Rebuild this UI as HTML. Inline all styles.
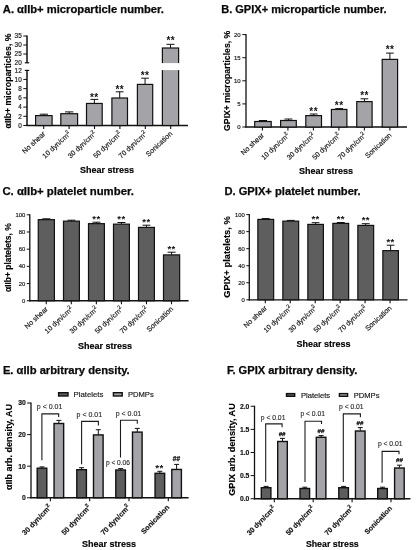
<!DOCTYPE html>
<html><head><meta charset="utf-8"><title>Figure</title>
<style>
html,body{margin:0;padding:0;background:#fff;}
svg{display:block;}
text{font-family:"Liberation Sans",sans-serif;fill:#222;}
.ttl{font-weight:bold;font-size:10.2px;fill:#0a0a0a;stroke:#0a0a0a;stroke-width:0.25px;}
.tk{font-weight:normal;fill:#1a1a1a;stroke:#1a1a1a;stroke-width:0.18px;}
.tkb{font-weight:bold;fill:#111;stroke:#111;stroke-width:0.15px;}
.yl{font-weight:bold;fill:#000;stroke:#000;stroke-width:0.15px;}
.st{font-weight:bold;fill:#111;letter-spacing:0.4px;}
.pv{font-weight:normal;fill:#262626;stroke:#262626;stroke-width:0.12px;}
</style></head><body>
<svg width="416" height="550" viewBox="0 0 416 550">
<rect width="416" height="550" fill="#fff"/>
<text x="2.8" y="12.9" class="ttl" textLength="161.1" lengthAdjust="spacingAndGlyphs">A. αIIb+ microparticle number.</text>
<line x1="27" y1="35.4" x2="27" y2="63.0" stroke="#111" stroke-width="1.5"/>
<line x1="24.8" y1="62.8" x2="29.2" y2="62.8" stroke="#111" stroke-width="1.2"/>
<line x1="27" y1="70.2" x2="27" y2="126.1" stroke="#111" stroke-width="1.5"/>
<line x1="24.8" y1="70.4" x2="29.2" y2="70.4" stroke="#111" stroke-width="1.2"/>
<line x1="26.4" y1="125.5" x2="188.0" y2="125.5" stroke="#111" stroke-width="1.3"/>
<line x1="23.3" y1="36" x2="27" y2="36" stroke="#111" stroke-width="1.0"/>
<text x="21.7" y="38.30" class="tk" text-anchor="end" font-size="6.4">35</text>
<line x1="23.3" y1="45" x2="27" y2="45" stroke="#111" stroke-width="1.0"/>
<text x="21.7" y="47.30" class="tk" text-anchor="end" font-size="6.4">30</text>
<line x1="23.3" y1="54" x2="27" y2="54" stroke="#111" stroke-width="1.0"/>
<text x="21.7" y="56.30" class="tk" text-anchor="end" font-size="6.4">25</text>
<text x="21.7" y="65.3" class="tk" text-anchor="end" font-size="6.4">20</text>
<text x="21.7" y="72.5" class="tk" text-anchor="end" font-size="6.4">12</text>
<line x1="23.3" y1="79.41666666666666" x2="27" y2="79.41666666666666" stroke="#111" stroke-width="1.0"/>
<text x="21.7" y="81.72" class="tk" text-anchor="end" font-size="6.4">10</text>
<line x1="23.3" y1="88.63333333333333" x2="27" y2="88.63333333333333" stroke="#111" stroke-width="1.0"/>
<text x="21.7" y="90.94" class="tk" text-anchor="end" font-size="6.4">8</text>
<line x1="23.3" y1="97.85000000000001" x2="27" y2="97.85000000000001" stroke="#111" stroke-width="1.0"/>
<text x="21.7" y="100.15" class="tk" text-anchor="end" font-size="6.4">6</text>
<line x1="23.3" y1="107.06666666666666" x2="27" y2="107.06666666666666" stroke="#111" stroke-width="1.0"/>
<text x="21.7" y="109.37" class="tk" text-anchor="end" font-size="6.4">4</text>
<line x1="23.3" y1="116.28333333333333" x2="27" y2="116.28333333333333" stroke="#111" stroke-width="1.0"/>
<text x="21.7" y="118.59" class="tk" text-anchor="end" font-size="6.4">2</text>
<line x1="23.3" y1="125.5" x2="27" y2="125.5" stroke="#111" stroke-width="1.0"/>
<text x="21.7" y="127.80" class="tk" text-anchor="end" font-size="6.4">0</text>
<line x1="43.85" y1="114.2" x2="43.85" y2="115.6" stroke="#111" stroke-width="1.0"/>
<line x1="39.725" y1="114.2" x2="47.975" y2="114.2" stroke="#111" stroke-width="1.0"/>
<rect x="35.6" y="115.6" width="16.5" height="9.900000000000006" fill="#a4a3a8" stroke="#111" stroke-width="1.2"/>
<line x1="69.19999999999999" y1="111.9" x2="69.19999999999999" y2="113.7" stroke="#111" stroke-width="1.0"/>
<line x1="64.99999999999999" y1="111.9" x2="73.39999999999999" y2="111.9" stroke="#111" stroke-width="1.0"/>
<rect x="60.8" y="113.7" width="16.799999999999997" height="11.799999999999997" fill="#a4a3a8" stroke="#111" stroke-width="1.2"/>
<line x1="94.35" y1="99.4" x2="94.35" y2="103.45" stroke="#111" stroke-width="1.0"/>
<line x1="90.425" y1="99.4" x2="98.27499999999999" y2="99.4" stroke="#111" stroke-width="1.0"/>
<rect x="86.5" y="103.45" width="15.700000000000003" height="22.049999999999997" fill="#a4a3a8" stroke="#111" stroke-width="1.2"/>
<line x1="119.7" y1="91.8" x2="119.7" y2="98.0" stroke="#111" stroke-width="1.0"/>
<line x1="115.80000000000001" y1="91.8" x2="123.6" y2="91.8" stroke="#111" stroke-width="1.0"/>
<rect x="111.9" y="98.0" width="15.599999999999994" height="27.5" fill="#a4a3a8" stroke="#111" stroke-width="1.2"/>
<line x1="145.05" y1="78.2" x2="145.05" y2="84.4" stroke="#111" stroke-width="1.0"/>
<line x1="141.22500000000002" y1="78.2" x2="148.875" y2="78.2" stroke="#111" stroke-width="1.0"/>
<rect x="137.4" y="84.4" width="15.299999999999983" height="41.099999999999994" fill="#a4a3a8" stroke="#111" stroke-width="1.2"/>
<line x1="170.5" y1="44.3" x2="170.5" y2="48" stroke="#111" stroke-width="1.0"/>
<line x1="166.45" y1="44.3" x2="174.55" y2="44.3" stroke="#111" stroke-width="1.0"/>
<rect x="162.4" y="48" width="16.19999999999999" height="77.5" fill="#a4a3a8" stroke="#111" stroke-width="1.2"/>
<rect x="160" y="63.1" width="21" height="7.0" fill="#fff"/>
<text x="94.35" y="100.95" class="st" text-anchor="middle" font-size="10.0">**</text>
<text x="119.7" y="93.35" class="st" text-anchor="middle" font-size="10.0">**</text>
<text x="145.05" y="78.75" class="st" text-anchor="middle" font-size="10.0">**</text>
<text x="170.7" y="44.05" class="st" text-anchor="middle" font-size="10.0">**</text>
<line x1="43.7" y1="125.5" x2="43.7" y2="129.0" stroke="#111" stroke-width="1.1"/>
<text transform="translate(45.800000000000004,134.4) rotate(-43)" class="tk" text-anchor="end" font-size="7.1">No shear</text>
<line x1="69.1" y1="125.5" x2="69.1" y2="129.0" stroke="#111" stroke-width="1.1"/>
<text transform="translate(71.19999999999999,134.4) rotate(-43)" class="tk" text-anchor="end" font-size="7.1">10 dyn/cm<tspan dy="-3" font-size="5.32">2</tspan></text>
<line x1="94.5" y1="125.5" x2="94.5" y2="129.0" stroke="#111" stroke-width="1.1"/>
<text transform="translate(96.6,134.4) rotate(-43)" class="tk" text-anchor="end" font-size="7.1">30 dyn/cm<tspan dy="-3" font-size="5.32">2</tspan></text>
<line x1="119.89999999999999" y1="125.5" x2="119.89999999999999" y2="129.0" stroke="#111" stroke-width="1.1"/>
<text transform="translate(121.99999999999999,134.4) rotate(-43)" class="tk" text-anchor="end" font-size="7.1">50 dyn/cm<tspan dy="-3" font-size="5.32">2</tspan></text>
<line x1="145.3" y1="125.5" x2="145.3" y2="129.0" stroke="#111" stroke-width="1.1"/>
<text transform="translate(147.4,134.4) rotate(-43)" class="tk" text-anchor="end" font-size="7.1">70 dyn/cm<tspan dy="-3" font-size="5.32">2</tspan></text>
<line x1="170.7" y1="125.5" x2="170.7" y2="129.0" stroke="#111" stroke-width="1.1"/>
<text transform="translate(172.79999999999998,134.4) rotate(-43)" class="tk" text-anchor="end" font-size="7.1">Sonication</text>
<text transform="translate(10.6,81.0) rotate(-90)" class="yl" text-anchor="middle" font-size="8.7">αIIb+ microparticles, %</text>
<text x="107" y="172.7" class="yl" text-anchor="middle" font-size="9">Shear stress</text>
<text x="221.2" y="12.5" class="ttl" textLength="165.3" lengthAdjust="spacingAndGlyphs">B. GPIX+ microparticle number.</text>
<line x1="246.0" y1="34.1" x2="246.0" y2="127.6" stroke="#111" stroke-width="1.3"/>
<line x1="245.4" y1="127" x2="407" y2="127" stroke="#111" stroke-width="1.3"/>
<line x1="242.3" y1="127.0" x2="246.0" y2="127.0" stroke="#111" stroke-width="1.0"/>
<text x="240.60000000000002" y="129.16" class="tk" text-anchor="end" font-size="6.0">0</text>
<line x1="242.3" y1="103.9" x2="246.0" y2="103.9" stroke="#111" stroke-width="1.0"/>
<text x="240.60000000000002" y="106.06" class="tk" text-anchor="end" font-size="6.0">5</text>
<line x1="242.3" y1="80.8" x2="246.0" y2="80.8" stroke="#111" stroke-width="1.0"/>
<text x="240.60000000000002" y="82.96" class="tk" text-anchor="end" font-size="6.0">10</text>
<line x1="242.3" y1="57.7" x2="246.0" y2="57.7" stroke="#111" stroke-width="1.0"/>
<text x="240.60000000000002" y="59.86" class="tk" text-anchor="end" font-size="6.0">15</text>
<line x1="242.3" y1="34.599999999999994" x2="246.0" y2="34.599999999999994" stroke="#111" stroke-width="1.0"/>
<text x="240.60000000000002" y="36.76" class="tk" text-anchor="end" font-size="6.0">20</text>
<line x1="262.95" y1="120.5" x2="262.95" y2="121.5" stroke="#111" stroke-width="1.0"/>
<line x1="258.825" y1="120.5" x2="267.075" y2="120.5" stroke="#111" stroke-width="1.0"/>
<rect x="254.7" y="121.5" width="16.5" height="5.5" fill="#a4a3a8" stroke="#111" stroke-width="1.2"/>
<line x1="288.45000000000005" y1="119.0" x2="288.45000000000005" y2="120.5" stroke="#111" stroke-width="1.0"/>
<line x1="284.52500000000003" y1="119.0" x2="292.37500000000006" y2="119.0" stroke="#111" stroke-width="1.0"/>
<rect x="280.6" y="120.5" width="15.699999999999989" height="6.5" fill="#a4a3a8" stroke="#111" stroke-width="1.2"/>
<line x1="313.65" y1="114.0" x2="313.65" y2="115.6" stroke="#111" stroke-width="1.0"/>
<line x1="309.72499999999997" y1="114.0" x2="317.575" y2="114.0" stroke="#111" stroke-width="1.0"/>
<rect x="305.8" y="115.6" width="15.699999999999989" height="11.400000000000006" fill="#a4a3a8" stroke="#111" stroke-width="1.2"/>
<line x1="339.15" y1="108.6" x2="339.15" y2="109.45" stroke="#111" stroke-width="1.0"/>
<line x1="335.275" y1="108.6" x2="343.025" y2="108.6" stroke="#111" stroke-width="1.0"/>
<rect x="331.4" y="109.45" width="15.5" height="17.549999999999997" fill="#a4a3a8" stroke="#111" stroke-width="1.2"/>
<line x1="364.425" y1="98.8" x2="364.425" y2="101.6" stroke="#111" stroke-width="1.0"/>
<line x1="360.5875" y1="98.8" x2="368.26250000000005" y2="98.8" stroke="#111" stroke-width="1.0"/>
<rect x="356.75" y="101.6" width="15.350000000000023" height="25.400000000000006" fill="#a4a3a8" stroke="#111" stroke-width="1.2"/>
<line x1="389.9" y1="53.1" x2="389.9" y2="59.4" stroke="#111" stroke-width="1.0"/>
<line x1="386.04999999999995" y1="53.1" x2="393.75" y2="53.1" stroke="#111" stroke-width="1.0"/>
<rect x="382.2" y="59.4" width="15.400000000000034" height="67.6" fill="#a4a3a8" stroke="#111" stroke-width="1.2"/>
<text x="313.65" y="114.55" class="st" text-anchor="middle" font-size="10.0">**</text>
<text x="339.15" y="109.15" class="st" text-anchor="middle" font-size="10.0">**</text>
<text x="364.425" y="99.35" class="st" text-anchor="middle" font-size="10.0">**</text>
<text x="390" y="53.35" class="st" text-anchor="middle" font-size="10.0">**</text>
<line x1="262.4" y1="127" x2="262.4" y2="130.5" stroke="#111" stroke-width="1.1"/>
<text transform="translate(264.5,135.9) rotate(-43)" class="tk" text-anchor="end" font-size="7.1">No shear</text>
<line x1="287.9" y1="127" x2="287.9" y2="130.5" stroke="#111" stroke-width="1.1"/>
<text transform="translate(290.0,135.9) rotate(-43)" class="tk" text-anchor="end" font-size="7.1">10 dyn/cm<tspan dy="-3" font-size="5.32">2</tspan></text>
<line x1="313.4" y1="127" x2="313.4" y2="130.5" stroke="#111" stroke-width="1.1"/>
<text transform="translate(315.5,135.9) rotate(-43)" class="tk" text-anchor="end" font-size="7.1">30 dyn/cm<tspan dy="-3" font-size="5.32">2</tspan></text>
<line x1="338.9" y1="127" x2="338.9" y2="130.5" stroke="#111" stroke-width="1.1"/>
<text transform="translate(341.0,135.9) rotate(-43)" class="tk" text-anchor="end" font-size="7.1">50 dyn/cm<tspan dy="-3" font-size="5.32">2</tspan></text>
<line x1="364.4" y1="127" x2="364.4" y2="130.5" stroke="#111" stroke-width="1.1"/>
<text transform="translate(366.5,135.9) rotate(-43)" class="tk" text-anchor="end" font-size="7.1">70 dyn/cm<tspan dy="-3" font-size="5.32">2</tspan></text>
<line x1="389.9" y1="127" x2="389.9" y2="130.5" stroke="#111" stroke-width="1.1"/>
<text transform="translate(392.0,135.9) rotate(-43)" class="tk" text-anchor="end" font-size="7.1">Sonication</text>
<text transform="translate(229.8,80.8) rotate(-90)" class="yl" text-anchor="middle" font-size="8.7">GPIX+ microparticles, %</text>
<text x="326" y="173.8" class="yl" text-anchor="middle" font-size="9">Shear stress</text>
<text x="2.4" y="195.0" class="ttl" textLength="131.5" lengthAdjust="spacingAndGlyphs">C. αIIb+ platelet number.</text>
<line x1="29.8" y1="214.3" x2="29.8" y2="301.35" stroke="#111" stroke-width="1.3"/>
<line x1="29.2" y1="300.75" x2="188.6" y2="300.75" stroke="#111" stroke-width="1.3"/>
<line x1="26.8" y1="300.75" x2="29.8" y2="300.75" stroke="#111" stroke-width="1.0"/>
<text x="25.400000000000002" y="302.87" class="tk" text-anchor="end" font-size="5.9">0</text>
<line x1="26.8" y1="283.56" x2="29.8" y2="283.56" stroke="#111" stroke-width="1.0"/>
<text x="25.400000000000002" y="285.68" class="tk" text-anchor="end" font-size="5.9">20</text>
<line x1="26.8" y1="266.37" x2="29.8" y2="266.37" stroke="#111" stroke-width="1.0"/>
<text x="25.400000000000002" y="268.49" class="tk" text-anchor="end" font-size="5.9">40</text>
<line x1="26.8" y1="249.18" x2="29.8" y2="249.18" stroke="#111" stroke-width="1.0"/>
<text x="25.400000000000002" y="251.30" class="tk" text-anchor="end" font-size="5.9">60</text>
<line x1="26.8" y1="231.99" x2="29.8" y2="231.99" stroke="#111" stroke-width="1.0"/>
<text x="25.400000000000002" y="234.11" class="tk" text-anchor="end" font-size="5.9">80</text>
<line x1="26.8" y1="214.8" x2="29.8" y2="214.8" stroke="#111" stroke-width="1.0"/>
<text x="25.400000000000002" y="216.92" class="tk" text-anchor="end" font-size="5.9">100</text>
<line x1="46.325" y1="218.8" x2="46.325" y2="219.65" stroke="#111" stroke-width="1.0"/>
<line x1="42.2875" y1="218.8" x2="50.362500000000004" y2="218.8" stroke="#111" stroke-width="1.0"/>
<rect x="38.25" y="219.65" width="16.15" height="81.1" fill="#5e5e5f" stroke="#111" stroke-width="1.2"/>
<line x1="71.45" y1="220.2" x2="71.45" y2="221.15" stroke="#111" stroke-width="1.0"/>
<line x1="67.475" y1="220.2" x2="75.42500000000001" y2="220.2" stroke="#111" stroke-width="1.0"/>
<rect x="63.5" y="221.15" width="15.900000000000006" height="79.6" fill="#5e5e5f" stroke="#111" stroke-width="1.2"/>
<line x1="96.45" y1="222.2" x2="96.45" y2="223.65" stroke="#111" stroke-width="1.0"/>
<line x1="92.475" y1="222.2" x2="100.42500000000001" y2="222.2" stroke="#111" stroke-width="1.0"/>
<rect x="88.5" y="223.65" width="15.900000000000006" height="77.1" fill="#5e5e5f" stroke="#111" stroke-width="1.2"/>
<line x1="121.45" y1="222.5" x2="121.45" y2="224.15" stroke="#111" stroke-width="1.0"/>
<line x1="117.475" y1="222.5" x2="125.42500000000001" y2="222.5" stroke="#111" stroke-width="1.0"/>
<rect x="113.5" y="224.15" width="15.900000000000006" height="76.6" fill="#5e5e5f" stroke="#111" stroke-width="1.2"/>
<line x1="146.45" y1="225.2" x2="146.45" y2="227.4" stroke="#111" stroke-width="1.0"/>
<line x1="142.475" y1="225.2" x2="150.42499999999998" y2="225.2" stroke="#111" stroke-width="1.0"/>
<rect x="138.5" y="227.4" width="15.900000000000006" height="73.35" fill="#5e5e5f" stroke="#111" stroke-width="1.2"/>
<line x1="171.575" y1="252.2" x2="171.575" y2="254.9" stroke="#111" stroke-width="1.0"/>
<line x1="167.5375" y1="252.2" x2="175.61249999999998" y2="252.2" stroke="#111" stroke-width="1.0"/>
<rect x="163.5" y="254.9" width="16.150000000000006" height="45.849999999999994" fill="#5e5e5f" stroke="#111" stroke-width="1.2"/>
<text x="96.45" y="221.69" class="st" text-anchor="middle" font-size="9.5">**</text>
<text x="121.45" y="221.99" class="st" text-anchor="middle" font-size="9.5">**</text>
<text x="146.45" y="224.69" class="st" text-anchor="middle" font-size="9.5">**</text>
<text x="171.575" y="251.69" class="st" text-anchor="middle" font-size="9.5">**</text>
<line x1="46.25" y1="300.75" x2="46.25" y2="304.25" stroke="#111" stroke-width="1.1"/>
<text transform="translate(48.35,309.65) rotate(-43)" class="tk" text-anchor="end" font-size="7.1">No shear</text>
<line x1="71.3" y1="300.75" x2="71.3" y2="304.25" stroke="#111" stroke-width="1.1"/>
<text transform="translate(73.39999999999999,309.65) rotate(-43)" class="tk" text-anchor="end" font-size="7.1">10 dyn/cm<tspan dy="-3" font-size="5.32">2</tspan></text>
<line x1="96.35" y1="300.75" x2="96.35" y2="304.25" stroke="#111" stroke-width="1.1"/>
<text transform="translate(98.44999999999999,309.65) rotate(-43)" class="tk" text-anchor="end" font-size="7.1">30 dyn/cm<tspan dy="-3" font-size="5.32">2</tspan></text>
<line x1="121.4" y1="300.75" x2="121.4" y2="304.25" stroke="#111" stroke-width="1.1"/>
<text transform="translate(123.5,309.65) rotate(-43)" class="tk" text-anchor="end" font-size="7.1">50 dyn/cm<tspan dy="-3" font-size="5.32">2</tspan></text>
<line x1="146.45" y1="300.75" x2="146.45" y2="304.25" stroke="#111" stroke-width="1.1"/>
<text transform="translate(148.54999999999998,309.65) rotate(-43)" class="tk" text-anchor="end" font-size="7.1">70 dyn/cm<tspan dy="-3" font-size="5.32">2</tspan></text>
<line x1="171.5" y1="300.75" x2="171.5" y2="304.25" stroke="#111" stroke-width="1.1"/>
<text transform="translate(173.6,309.65) rotate(-43)" class="tk" text-anchor="end" font-size="7.1">Sonication</text>
<text transform="translate(11.3,257.7) rotate(-90)" class="yl" text-anchor="middle" font-size="8.45">αIIb+ platelets, %</text>
<text x="105" y="348.5" class="yl" text-anchor="middle" font-size="9">Shear stress</text>
<text x="224.4" y="194.7" class="ttl" textLength="136.3" lengthAdjust="spacingAndGlyphs">D. GPIX+ platelet number.</text>
<line x1="249.3" y1="214.1" x2="249.3" y2="300.40000000000003" stroke="#111" stroke-width="1.3"/>
<line x1="248.70000000000002" y1="299.8" x2="407.5" y2="299.8" stroke="#111" stroke-width="1.3"/>
<line x1="246.3" y1="299.8" x2="249.3" y2="299.8" stroke="#111" stroke-width="1.0"/>
<text x="244.9" y="301.92" class="tk" text-anchor="end" font-size="5.9">0</text>
<line x1="246.3" y1="282.76" x2="249.3" y2="282.76" stroke="#111" stroke-width="1.0"/>
<text x="244.9" y="284.88" class="tk" text-anchor="end" font-size="5.9">20</text>
<line x1="246.3" y1="265.72" x2="249.3" y2="265.72" stroke="#111" stroke-width="1.0"/>
<text x="244.9" y="267.84" class="tk" text-anchor="end" font-size="5.9">40</text>
<line x1="246.3" y1="248.68" x2="249.3" y2="248.68" stroke="#111" stroke-width="1.0"/>
<text x="244.9" y="250.80" class="tk" text-anchor="end" font-size="5.9">60</text>
<line x1="246.3" y1="231.64" x2="249.3" y2="231.64" stroke="#111" stroke-width="1.0"/>
<text x="244.9" y="233.76" class="tk" text-anchor="end" font-size="5.9">80</text>
<line x1="246.3" y1="214.6" x2="249.3" y2="214.6" stroke="#111" stroke-width="1.0"/>
<text x="244.9" y="216.72" class="tk" text-anchor="end" font-size="5.9">100</text>
<line x1="265.75" y1="218.6" x2="265.75" y2="219.4" stroke="#111" stroke-width="1.0"/>
<line x1="261.8" y1="218.6" x2="269.7" y2="218.6" stroke="#111" stroke-width="1.0"/>
<rect x="257.85" y="219.4" width="15.799999999999955" height="80.4" fill="#5e5e5f" stroke="#111" stroke-width="1.2"/>
<line x1="290.75" y1="220.4" x2="290.75" y2="221.15" stroke="#111" stroke-width="1.0"/>
<line x1="286.8" y1="220.4" x2="294.7" y2="220.4" stroke="#111" stroke-width="1.0"/>
<rect x="282.85" y="221.15" width="15.799999999999955" height="78.65" fill="#5e5e5f" stroke="#111" stroke-width="1.2"/>
<line x1="315.625" y1="222.7" x2="315.625" y2="224.4" stroke="#111" stroke-width="1.0"/>
<line x1="311.7375" y1="222.7" x2="319.5125" y2="222.7" stroke="#111" stroke-width="1.0"/>
<rect x="307.85" y="224.4" width="15.549999999999955" height="75.4" fill="#5e5e5f" stroke="#111" stroke-width="1.2"/>
<line x1="340.75" y1="222.5" x2="340.75" y2="223.4" stroke="#111" stroke-width="1.0"/>
<line x1="336.8" y1="222.5" x2="344.7" y2="222.5" stroke="#111" stroke-width="1.0"/>
<rect x="332.85" y="223.4" width="15.799999999999955" height="76.4" fill="#5e5e5f" stroke="#111" stroke-width="1.2"/>
<line x1="365.75" y1="223.7" x2="365.75" y2="225.4" stroke="#111" stroke-width="1.0"/>
<line x1="361.8" y1="223.7" x2="369.7" y2="223.7" stroke="#111" stroke-width="1.0"/>
<rect x="357.85" y="225.4" width="15.799999999999955" height="74.4" fill="#5e5e5f" stroke="#111" stroke-width="1.2"/>
<line x1="390.625" y1="245.2" x2="390.625" y2="250.65" stroke="#111" stroke-width="1.0"/>
<line x1="386.7375" y1="245.2" x2="394.5125" y2="245.2" stroke="#111" stroke-width="1.0"/>
<rect x="382.85" y="250.65" width="15.549999999999955" height="49.150000000000006" fill="#5e5e5f" stroke="#111" stroke-width="1.2"/>
<text x="315.625" y="222.19" class="st" text-anchor="middle" font-size="9.5">**</text>
<text x="340.75" y="221.99" class="st" text-anchor="middle" font-size="9.5">**</text>
<text x="365.75" y="223.19" class="st" text-anchor="middle" font-size="9.5">**</text>
<text x="390.625" y="244.69" class="st" text-anchor="middle" font-size="9.5">**</text>
<line x1="265.3" y1="299.8" x2="265.3" y2="303.3" stroke="#111" stroke-width="1.1"/>
<text transform="translate(267.40000000000003,308.7) rotate(-43)" class="tk" text-anchor="end" font-size="7.1">No shear</text>
<line x1="290.25" y1="299.8" x2="290.25" y2="303.3" stroke="#111" stroke-width="1.1"/>
<text transform="translate(292.35,308.7) rotate(-43)" class="tk" text-anchor="end" font-size="7.1">10 dyn/cm<tspan dy="-3" font-size="5.32">2</tspan></text>
<line x1="315.2" y1="299.8" x2="315.2" y2="303.3" stroke="#111" stroke-width="1.1"/>
<text transform="translate(317.3,308.7) rotate(-43)" class="tk" text-anchor="end" font-size="7.1">30 dyn/cm<tspan dy="-3" font-size="5.32">2</tspan></text>
<line x1="340.15" y1="299.8" x2="340.15" y2="303.3" stroke="#111" stroke-width="1.1"/>
<text transform="translate(342.25,308.7) rotate(-43)" class="tk" text-anchor="end" font-size="7.1">50 dyn/cm<tspan dy="-3" font-size="5.32">2</tspan></text>
<line x1="365.1" y1="299.8" x2="365.1" y2="303.3" stroke="#111" stroke-width="1.1"/>
<text transform="translate(367.20000000000005,308.7) rotate(-43)" class="tk" text-anchor="end" font-size="7.1">70 dyn/cm<tspan dy="-3" font-size="5.32">2</tspan></text>
<line x1="390.05" y1="299.8" x2="390.05" y2="303.3" stroke="#111" stroke-width="1.1"/>
<text transform="translate(392.15000000000003,308.7) rotate(-43)" class="tk" text-anchor="end" font-size="7.1">Sonication</text>
<text transform="translate(229.8,257) rotate(-90)" class="yl" text-anchor="middle" font-size="9.3">GPIX+ platelets, %</text>
<text x="323.6" y="346.5" class="yl" text-anchor="middle" font-size="9">Shear stress</text>
<text x="2.9" y="373.5" class="ttl" textLength="126.8" lengthAdjust="spacingAndGlyphs">E. αIIb arbitrary density.</text>
<line x1="31" y1="402.5" x2="31" y2="498.35" stroke="#111" stroke-width="1.3"/>
<line x1="30.4" y1="497.75" x2="188.6" y2="497.75" stroke="#111" stroke-width="1.3"/>
<line x1="27.1" y1="497.75" x2="31" y2="497.75" stroke="#111" stroke-width="1.0"/>
<text x="25.900000000000002" y="500.20" class="tkb" text-anchor="end" font-size="6.8">0</text>
<line x1="27.1" y1="466.1666666666667" x2="31" y2="466.1666666666667" stroke="#111" stroke-width="1.0"/>
<text x="25.900000000000002" y="468.61" class="tkb" text-anchor="end" font-size="6.8">10</text>
<line x1="27.1" y1="434.5833333333333" x2="31" y2="434.5833333333333" stroke="#111" stroke-width="1.0"/>
<text x="25.900000000000002" y="437.03" class="tkb" text-anchor="end" font-size="6.8">20</text>
<line x1="27.1" y1="403.0" x2="31" y2="403.0" stroke="#111" stroke-width="1.0"/>
<text x="25.900000000000002" y="405.45" class="tkb" text-anchor="end" font-size="6.8">30</text>
<line x1="42.0" y1="466.9" x2="42.0" y2="468.0" stroke="#111" stroke-width="1.0"/>
<line x1="39.5" y1="466.9" x2="44.5" y2="466.9" stroke="#111" stroke-width="1.0"/>
<rect x="37.20" y="468.20" width="9.60" height="29.55" fill="#5e5e5f" stroke="#111" stroke-width="1.4"/>
<line x1="81.6" y1="467.7" x2="81.6" y2="469.5" stroke="#111" stroke-width="1.0"/>
<line x1="79.1" y1="467.7" x2="84.1" y2="467.7" stroke="#111" stroke-width="1.0"/>
<rect x="76.80" y="469.70" width="9.60" height="28.05" fill="#5e5e5f" stroke="#111" stroke-width="1.4"/>
<line x1="120.6" y1="468.6" x2="120.6" y2="469.8" stroke="#111" stroke-width="1.0"/>
<line x1="118.1" y1="468.6" x2="123.1" y2="468.6" stroke="#111" stroke-width="1.0"/>
<rect x="115.80" y="470.00" width="9.60" height="27.75" fill="#5e5e5f" stroke="#111" stroke-width="1.4"/>
<line x1="159.85" y1="471.3" x2="159.85" y2="473.1" stroke="#111" stroke-width="1.0"/>
<line x1="157.35" y1="471.3" x2="162.35" y2="471.3" stroke="#111" stroke-width="1.0"/>
<rect x="155.05" y="473.30" width="9.60" height="24.45" fill="#5e5e5f" stroke="#111" stroke-width="1.4"/>
<line x1="58.85" y1="420.4" x2="58.85" y2="423.3" stroke="#111" stroke-width="1.0"/>
<line x1="56.35" y1="420.4" x2="61.35" y2="420.4" stroke="#111" stroke-width="1.0"/>
<rect x="54.05" y="423.50" width="9.60" height="74.25" fill="#a4a3a8" stroke="#111" stroke-width="1.4"/>
<line x1="98.3" y1="429.7" x2="98.3" y2="434.7" stroke="#111" stroke-width="1.0"/>
<line x1="95.8" y1="429.7" x2="100.8" y2="429.7" stroke="#111" stroke-width="1.0"/>
<rect x="93.50" y="434.90" width="9.60" height="62.85" fill="#a4a3a8" stroke="#111" stroke-width="1.4"/>
<line x1="137.3" y1="428.4" x2="137.3" y2="431.9" stroke="#111" stroke-width="1.0"/>
<line x1="134.8" y1="428.4" x2="139.8" y2="428.4" stroke="#111" stroke-width="1.0"/>
<rect x="132.50" y="432.10" width="9.60" height="65.65" fill="#a4a3a8" stroke="#111" stroke-width="1.4"/>
<line x1="176.6" y1="464.4" x2="176.6" y2="469.25" stroke="#111" stroke-width="1.0"/>
<line x1="174.1" y1="464.4" x2="179.1" y2="464.4" stroke="#111" stroke-width="1.0"/>
<rect x="171.80" y="469.45" width="9.60" height="28.30" fill="#a4a3a8" stroke="#111" stroke-width="1.4"/>
<path d="M41.9 460.2V413.9H58.65V417" fill="none" stroke="#1c1c1c" stroke-width="1.1"/>
<text x="49.6" y="409.2" class="pv" text-anchor="middle" font-size="7.0">p &lt; 0.01</text>
<path d="M81.6 464.2V421.35H98.4V425.4" fill="none" stroke="#1c1c1c" stroke-width="1.1"/>
<text x="89.3" y="416.6" class="pv" text-anchor="middle" font-size="7.0">p &lt; 0.01</text>
<path d="M120.5 457.5V420.2H137.3V423.75" fill="none" stroke="#1c1c1c" stroke-width="1.1"/>
<text x="128.5" y="415.6" class="pv" text-anchor="middle" font-size="7.0">p &lt; 0.01</text>
<text x="117.9" y="465.2" class="pv" text-anchor="middle" font-size="6.6">p &lt; 0.06</text>
<text x="159.4" y="470.94" class="st" text-anchor="middle" font-size="9.8">**</text>
<text x="176.4" y="460.89" class="tkb" style="stroke-width:0.25px" text-anchor="middle" font-size="6.5">##</text>
<rect x="58.6" y="392.7" width="9.399999999999999" height="3.3000000000000114" fill="#5e5e5f" stroke="#111" stroke-width="1.4"/>
<text x="73.5" y="397" class="tk" font-size="7.8">Platelets</text>
<rect x="113.4" y="392.7" width="8.799999999999997" height="3.3000000000000114" fill="#a4a3a8" stroke="#111" stroke-width="1.4"/>
<text x="128.0" y="397" class="tk" font-size="7.6">PDMPs</text>
<line x1="50.4" y1="497.75" x2="50.4" y2="501.25" stroke="#111" stroke-width="1.1"/>
<text transform="translate(52.0,507.75) rotate(-46)" class="tkb" text-anchor="end" font-size="7.3">30 dyn/cm<tspan dy="-3" font-size="5.47">2</tspan></text>
<line x1="89.69999999999999" y1="497.75" x2="89.69999999999999" y2="501.25" stroke="#111" stroke-width="1.1"/>
<text transform="translate(91.29999999999998,507.75) rotate(-46)" class="tkb" text-anchor="end" font-size="7.3">50 dyn/cm<tspan dy="-3" font-size="5.47">2</tspan></text>
<line x1="129.0" y1="497.75" x2="129.0" y2="501.25" stroke="#111" stroke-width="1.1"/>
<text transform="translate(130.6,507.75) rotate(-46)" class="tkb" text-anchor="end" font-size="7.3">70 dyn/cm<tspan dy="-3" font-size="5.47">2</tspan></text>
<line x1="168.29999999999998" y1="497.75" x2="168.29999999999998" y2="501.25" stroke="#111" stroke-width="1.1"/>
<text transform="translate(169.89999999999998,507.75) rotate(-46)" class="tkb" text-anchor="end" font-size="7.3">Sonication</text>
<text transform="translate(12.3,447.1) rotate(-90)" class="yl" text-anchor="middle" font-size="9.0">αIIb arb. density, AU</text>
<text x="108.9" y="547.4" class="yl" text-anchor="middle" font-size="9">Shear stress</text>
<text x="226.9" y="373.9" class="ttl" textLength="130.5" lengthAdjust="spacingAndGlyphs">F. GPIX arbitrary density.</text>
<line x1="254.5" y1="405.75" x2="254.5" y2="499.35" stroke="#111" stroke-width="1.3"/>
<line x1="253.9" y1="498.75" x2="410.4" y2="498.75" stroke="#111" stroke-width="1.3"/>
<line x1="250.6" y1="498.75" x2="254.5" y2="498.75" stroke="#111" stroke-width="1.0"/>
<text x="249.4" y="501.20" class="tkb" text-anchor="end" font-size="6.8">0.0</text>
<line x1="250.6" y1="475.625" x2="254.5" y2="475.625" stroke="#111" stroke-width="1.0"/>
<text x="249.4" y="478.07" class="tkb" text-anchor="end" font-size="6.8">0.5</text>
<line x1="250.6" y1="452.5" x2="254.5" y2="452.5" stroke="#111" stroke-width="1.0"/>
<text x="249.4" y="454.95" class="tkb" text-anchor="end" font-size="6.8">1.0</text>
<line x1="250.6" y1="429.375" x2="254.5" y2="429.375" stroke="#111" stroke-width="1.0"/>
<text x="249.4" y="431.82" class="tkb" text-anchor="end" font-size="6.8">1.5</text>
<line x1="250.6" y1="406.25" x2="254.5" y2="406.25" stroke="#111" stroke-width="1.0"/>
<text x="249.4" y="408.70" class="tkb" text-anchor="end" font-size="6.8">2.0</text>
<line x1="266.1" y1="486.4" x2="266.1" y2="487.5" stroke="#111" stroke-width="1.0"/>
<line x1="263.6" y1="486.4" x2="268.6" y2="486.4" stroke="#111" stroke-width="1.0"/>
<rect x="261.30" y="487.70" width="9.60" height="11.05" fill="#5e5e5f" stroke="#111" stroke-width="1.4"/>
<line x1="304.8" y1="487.2" x2="304.8" y2="488.3" stroke="#111" stroke-width="1.0"/>
<line x1="302.3" y1="487.2" x2="307.3" y2="487.2" stroke="#111" stroke-width="1.0"/>
<rect x="300.00" y="488.50" width="9.60" height="10.25" fill="#5e5e5f" stroke="#111" stroke-width="1.4"/>
<line x1="343.6" y1="486.4" x2="343.6" y2="487.5" stroke="#111" stroke-width="1.0"/>
<line x1="341.1" y1="486.4" x2="346.1" y2="486.4" stroke="#111" stroke-width="1.0"/>
<rect x="338.80" y="487.70" width="9.60" height="11.05" fill="#5e5e5f" stroke="#111" stroke-width="1.4"/>
<line x1="382.5" y1="487.2" x2="382.5" y2="488.3" stroke="#111" stroke-width="1.0"/>
<line x1="380.0" y1="487.2" x2="385.0" y2="487.2" stroke="#111" stroke-width="1.0"/>
<rect x="377.70" y="488.50" width="9.60" height="10.25" fill="#5e5e5f" stroke="#111" stroke-width="1.4"/>
<line x1="282.5" y1="438.4" x2="282.5" y2="441.3" stroke="#111" stroke-width="1.0"/>
<line x1="280.0" y1="438.4" x2="285.0" y2="438.4" stroke="#111" stroke-width="1.0"/>
<rect x="277.70" y="441.50" width="9.60" height="57.25" fill="#a4a3a8" stroke="#111" stroke-width="1.4"/>
<line x1="321.1" y1="435.6" x2="321.1" y2="437.1" stroke="#111" stroke-width="1.0"/>
<line x1="318.6" y1="435.6" x2="323.6" y2="435.6" stroke="#111" stroke-width="1.0"/>
<rect x="316.30" y="437.30" width="9.60" height="61.45" fill="#a4a3a8" stroke="#111" stroke-width="1.4"/>
<line x1="360.25" y1="427.6" x2="360.25" y2="430.8" stroke="#111" stroke-width="1.0"/>
<line x1="357.75" y1="427.6" x2="362.75" y2="427.6" stroke="#111" stroke-width="1.0"/>
<rect x="355.45" y="431.00" width="9.60" height="67.75" fill="#a4a3a8" stroke="#111" stroke-width="1.4"/>
<line x1="399.4" y1="465.2" x2="399.4" y2="467.8" stroke="#111" stroke-width="1.0"/>
<line x1="396.9" y1="465.2" x2="401.9" y2="465.2" stroke="#111" stroke-width="1.0"/>
<rect x="394.60" y="468.00" width="9.60" height="30.75" fill="#a4a3a8" stroke="#111" stroke-width="1.4"/>
<path d="M265.7 482.1V423.9H282.1V427.3" fill="none" stroke="#1c1c1c" stroke-width="1.1"/>
<text x="273.1" y="419.6" class="pv" text-anchor="middle" font-size="6.75">p &lt; 0.01</text>
<path d="M305 482V421.2H321.5V424.1" fill="none" stroke="#1c1c1c" stroke-width="1.1"/>
<text x="312.7" y="416.4" class="pv" text-anchor="middle" font-size="6.75">p &lt; 0.01</text>
<path d="M343.3 482V413.9H360.4V417.3" fill="none" stroke="#1c1c1c" stroke-width="1.1"/>
<text x="351.3" y="409.3" class="pv" text-anchor="middle" font-size="6.75">p &lt; 0.01</text>
<path d="M382.1 482.7V451.35H399V454.2" fill="none" stroke="#1c1c1c" stroke-width="1.1"/>
<text x="390.2" y="445.6" class="pv" text-anchor="middle" font-size="6.75">p &lt; 0.01</text>
<text x="282.1" y="436.08" class="tkb" style="stroke-width:0.25px" text-anchor="middle" font-size="6.2">##</text>
<text x="321" y="433.38" class="tkb" style="stroke-width:0.25px" text-anchor="middle" font-size="6.2">##</text>
<text x="360" y="425.48" class="tkb" style="stroke-width:0.25px" text-anchor="middle" font-size="6.2">##</text>
<text x="399.4" y="462.38" class="tkb" style="stroke-width:0.25px" text-anchor="middle" font-size="6.2">##</text>
<rect x="286.5" y="393.6" width="8.199999999999989" height="2.6999999999999886" fill="#5e5e5f" stroke="#111" stroke-width="1.4"/>
<text x="301" y="397.7" class="tk" font-size="7.6">Platelets</text>
<rect x="339.4" y="393.6" width="8.200000000000045" height="2.6999999999999886" fill="#a4a3a8" stroke="#111" stroke-width="1.4"/>
<text x="353.75" y="397.7" class="tk" font-size="7.6">PDMPs</text>
<line x1="274.3" y1="498.75" x2="274.3" y2="502.25" stroke="#111" stroke-width="1.1"/>
<text transform="translate(275.90000000000003,508.75) rotate(-46)" class="tkb" text-anchor="end" font-size="7.1">30 dyn/cm<tspan dy="-3" font-size="5.32">2</tspan></text>
<line x1="313.2" y1="498.75" x2="313.2" y2="502.25" stroke="#111" stroke-width="1.1"/>
<text transform="translate(314.8,508.75) rotate(-46)" class="tkb" text-anchor="end" font-size="7.1">50 dyn/cm<tspan dy="-3" font-size="5.32">2</tspan></text>
<line x1="352.1" y1="498.75" x2="352.1" y2="502.25" stroke="#111" stroke-width="1.1"/>
<text transform="translate(353.70000000000005,508.75) rotate(-46)" class="tkb" text-anchor="end" font-size="7.1">70 dyn/cm<tspan dy="-3" font-size="5.32">2</tspan></text>
<line x1="391.0" y1="498.75" x2="391.0" y2="502.25" stroke="#111" stroke-width="1.1"/>
<text transform="translate(392.6,508.75) rotate(-46)" class="tkb" text-anchor="end" font-size="7.1">Sonication</text>
<text transform="translate(234.8,449.5) rotate(-90)" class="yl" text-anchor="middle" font-size="9.1">GPIX arb. density, AU</text>
<text x="332.3" y="546.8" class="yl" text-anchor="middle" font-size="8.8">Shear stress</text>
</svg>
</body></html>
